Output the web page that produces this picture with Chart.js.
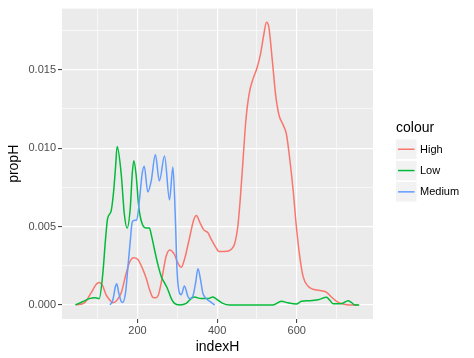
<!DOCTYPE html>
<html>
<head>
<meta charset="utf-8">
<script src="https://cdn.jsdelivr.net/npm/chart.js@4/dist/chart.umd.min.js"></script>
<style>
html,body{margin:0;padding:0;background:#fff;}
#c{display:block;}
</style>
</head>
<body>
<canvas id="c" width="474" height="358"></canvas>
<script>
// ---- data ----
const seriesNames = ["High", "Low", "Medium"];
const seriesColors = ["#F8766D", "#00BA38", "#619CFF"];

const highX = [46,67,83.5,96,104,113,121,129.5,138,146,159,171.5,180,190,201,213,222,230,238,245,252,258,265,272,281,293,301,310,318,331,341,348,356,366,377,385,396,405,419,436,444,452,458,465,472,480,490,500,509,517,524,530,539,547,555.5,565.5,574,582,591,599,607.5,616,628,641,662,675,687,700,716.5,733,754];
const highY = [0,0.00013,0.00076,0.0013,0.00143,0.0012,0.00065,0.00034,0.00013,0.00023,0.00076,0.002,0.0027,0.003,0.0029,0.0023,0.0017,0.001,0.0005,0.00045,0.0006,0.0012,0.0022,0.0031,0.0035,0.0032,0.0027,0.0024,0.0029,0.0043,0.0054,0.0057,0.0053,0.0048,0.0046,0.0042,0.0037,0.0034,0.0034,0.00355,0.0039,0.005,0.0067,0.0092,0.0117,0.0134,0.0144,0.0151,0.016,0.0172,0.01803,0.0177,0.0155,0.0134,0.0121,0.0115,0.0109,0.0094,0.0073,0.005,0.0031,0.0018,0.0012,0.001,0.0009,0.0008,0.0005,0.00023,0.00006,0,0];

const lowX = [44,62,79,94,104,113,119.5,125,134,140,145,149,159,167,174,182,187,191,197,203,213,223,230,234.5,243,251,260,268,276,285,293,306,322.5,335,343,360,377,389,402,414.5,431,540,561.5,578,599,612,633,653.5,675,683,691,712,729,737,746,757];
const lowY = [0,0.0002,0.0004,0.00045,0.0004,0.002,0.0041,0.0055,0.006,0.0072,0.0088,0.0101,0.0084,0.0058,0.0049,0.0062,0.0084,0.0092,0.0082,0.0063,0.0051,0.0049,0.0049,0.0045,0.0035,0.0026,0.0018,0.0014,0.001,0.0004,0.0001,0,0.0001,0.0004,0.0005,0.0004,0.0004,0.0005,0.0003,0.0001,0,0,0.00023,0.00013,0.00006,0.00023,0.00027,0.00033,0.00048,0.0003,0.00008,0.00008,0.00027,0.00016,0,0];

const medX = [131,138,145,148,153,159,163,170,176,182,187,193,198,205,212,217,226,234.5,245,255,268,280.5,289,295.6,299,304,310,318,326.5,331,339,346,352,358.5,364,373,385,394];
const medY = [0,0.0003,0.0012,0.00135,0.00076,0.00023,0.00016,0.00076,0.0024,0.0041,0.0053,0.0054,0.0054,0.0067,0.0084,0.00885,0.0072,0.0079,0.0096,0.0079,0.0095,0.0067,0.0088,0.0052,0.0024,0.0009,0.00065,0.0012,0.00055,0.0004,0.00055,0.0014,0.0023,0.0016,0.00076,0.0004,0.00016,0];

const xTicks = [100,200,300,400,500,600,700];
const xTickLabels = ["", "200", "", "400", "", "600", ""];
const yTicks = [0,0.0025,0.005,0.0075,0.01,0.0125,0.015,0.0175];
const yTickLabels = ["0.000", "", "0.005", "", "0.010", "", "0.015", ""];

const xTitle = "indexH";
const yTitle = "propH";
const legendTitle = "colour";

// ---- build ----
const FONT = "'Liberation Sans', Arial, Helvetica, sans-serif";
Chart.defaults.font.family = FONT;

function pts(xs, ys){ return xs.map((x,i)=>({x:x, y:ys[i]})); }
const allX = [highX, lowX, medX];
const allY = [highY, lowY, medY];

const datasets = seriesNames.map((n,i)=>({
  label: n,
  data: pts(allX[i], allY[i]),
  borderColor: seriesColors[i],
  borderWidth: 1.5,
  pointRadius: 0,
  fill: false,
  cubicInterpolationMode: 'monotone',
  order: 3 - i
}));

const panelPlugin = {
  id: 'panel',
  beforeDraw(chart){
    const {ctx, chartArea:a} = chart;
    ctx.save();
    ctx.fillStyle = '#ffffff';
    ctx.fillRect(0,0,chart.width,chart.height);
    ctx.fillStyle = '#EBEBEB';
    ctx.fillRect(a.left, a.top, a.right-a.left, a.bottom-a.top);
    ctx.restore();
  },
  afterDraw(chart){
    const ctx = chart.ctx;
    ctx.save();
    const x0 = 396;
    ctx.fillStyle = '#000';
    ctx.font = '14px ' + FONT;
    ctx.textBaseline = 'middle';
    ctx.textAlign = 'left';
    ctx.fillText(legendTitle, x0, 128);
    seriesNames.forEach((n,i)=>{
      const y = 139.5 + i*21.3;
      ctx.fillStyle = '#F2F2F2';
      ctx.fillRect(x0, y, 20.5, 19.5);
      ctx.strokeStyle = seriesColors[i];
      ctx.lineWidth = 1.5;
      ctx.beginPath();
      ctx.moveTo(x0+2, y+9.75);
      ctx.lineTo(x0+18.5, y+9.75);
      ctx.stroke();
      ctx.fillStyle = '#000';
      ctx.font = '11px ' + FONT;
      ctx.fillText(n, 420, y+10);
    });
    ctx.restore();
  }
};

new Chart(document.getElementById('c'), {
  type: 'line',
  data: { datasets },
  options: {
    responsive: false,
    devicePixelRatio: 1,
    animation: false,
    layout: { padding: { left: 0, top: 7, right: 101, bottom: 0 } },
    plugins: { legend: { display: false }, tooltip: { enabled: false } },
    scales: {
      x: {
        type: 'linear',
        min: 10.5, max: 791.5,
        afterBuildTicks(s){ s.ticks = xTicks.map(v=>({value:v})); },
        afterFit(s){ s.height = 39; },
        ticks: {
          autoSkip: false, maxRotation: 0, padding: 1,
          color: '#4D4D4D', font: { size: 11 },
          callback: (v, i) => xTickLabels[i]
        },
        grid: {
          color: '#ffffff',
          lineWidth: c => (c.tick && c.tick.value % 200 === 0) ? 1.2 : 0.6,
          tickColor: c => (c.tick && c.tick.value % 200 === 0) ? '#333333' : 'rgba(0,0,0,0)',
          tickWidth: 1, tickLength: 4, drawTicks: true
        },
        border: { display: false },
        title: { display: true, text: xTitle, color: '#000', font: { size: 14 }, padding: { top: 0, bottom: 2.6 } }
      },
      y: {
        type: 'linear',
        min: -0.0009, max: 0.0189,
        afterBuildTicks(s){ s.ticks = yTicks.map(v=>({value:v})); },
        afterFit(s){ s.width = 62; },
        ticks: {
          autoSkip: false, padding: 2,
          color: '#4D4D4D', font: { size: 11 },
          callback: (v, i) => yTickLabels[i]
        },
        grid: {
          color: '#ffffff',
          lineWidth: c => (c.index % 2 === 0) ? 1.2 : 0.6,
          tickColor: c => (c.index % 2 === 0) ? '#333333' : 'rgba(0,0,0,0)',
          tickWidth: 1, tickLength: 4, drawTicks: true
        },
        border: { display: false },
        title: { display: true, text: yTitle, color: '#000', font: { size: 14 }, padding: { top: 6, bottom: 0 } }
      }
    }
  },
  plugins: [panelPlugin]
});
</script>
</body>
</html>
